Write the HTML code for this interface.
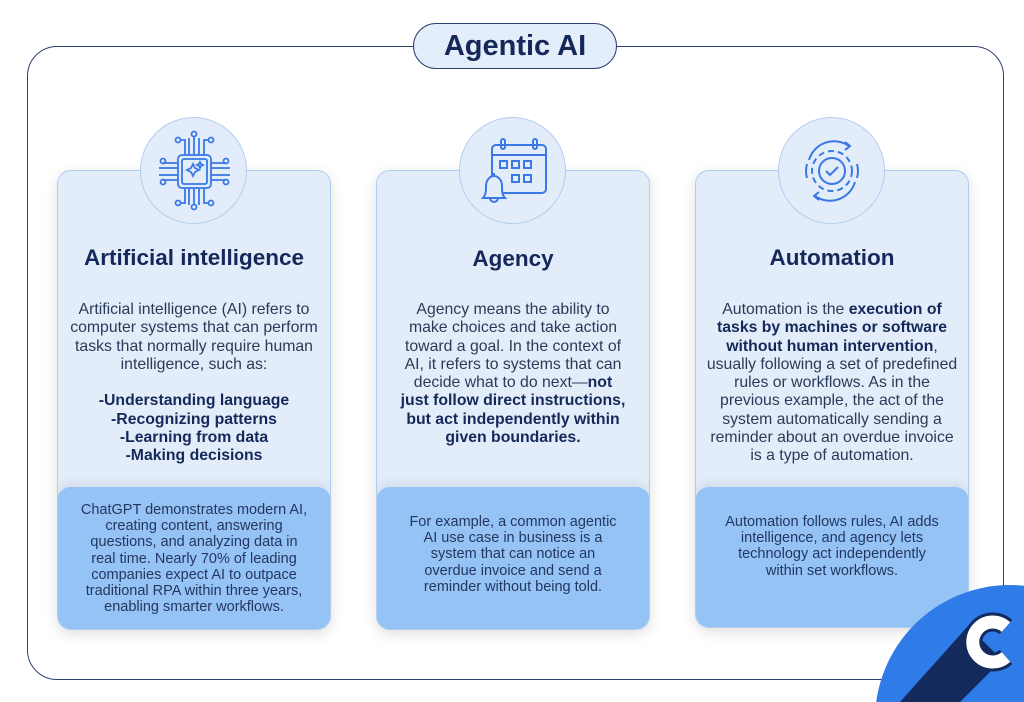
<!DOCTYPE html>
<html><head><meta charset="utf-8"><style>
*{margin:0;padding:0;box-sizing:border-box}
html,body{overflow:hidden}
body{width:1024px;height:702px;background:#fff;position:relative;overflow:hidden;font-family:"Liberation Sans",sans-serif;color:#2b3a58}
.outer{position:absolute;left:27px;top:46px;width:977px;height:634px;border:1.5px solid #2d4170;border-radius:30px}
.pill{position:absolute;left:413px;top:23px;width:204px;height:46px;border:1.5px solid #2d4170;border-radius:23px;background:#e4eefb;text-align:center;font-weight:bold;font-size:29px;line-height:44px;color:#16285a}
.card{position:absolute;top:170px;width:274px;height:460px;background:#e3edfa;border:1.5px solid #b0cdf0;border-radius:14px;box-shadow:0 4px 14px rgba(0,0,0,.13);overflow:hidden}
.bot{position:absolute;left:-1px;right:-1px;top:316px;bottom:-1px;background:#95c3f6;border-radius:14px;box-shadow:0 -4px 10px rgba(0,0,0,.08);text-align:center;font-size:14.5px;line-height:16.2px;color:#24375e;white-space:nowrap}
.circ{position:absolute;top:117px;width:107px;height:107px;border-radius:50%;background:#e3edfa;border:1.5px solid #b3cdf0}
h2{position:absolute;top:245px;width:274px;text-align:center;font-size:22.5px;color:#16285a}
.txt{position:absolute;width:274px;text-align:center;font-size:15.8px;line-height:18.3px;white-space:nowrap}
b{color:#16285a}
</style></head><body>
<div class="outer"></div>
<div class="pill">Agentic AI</div>

<div class="card" style="left:57px"><div class="bot" style="padding-top:15px">ChatGPT demonstrates modern AI,<br>creating content, answering<br>questions, and analyzing data in<br>real time. Nearly 70% of leading<br>companies expect AI to outpace<br>traditional RPA within three years,<br>enabling smarter workflows.</div></div>
<div class="card" style="left:376px"><div class="bot" style="padding-top:27px">For example, a common agentic<br>AI use case in business is a<br>system that can notice an<br>overdue invoice and send a<br>reminder without being told.</div></div>
<div class="card" style="left:695px;height:458px"><div class="bot" style="padding-top:27px">Automation follows rules, AI adds<br>intelligence, and agency lets<br>technology act independently<br>within set workflows.</div></div>

<div class="circ" style="left:140px"><svg width="107" height="107" viewBox="0 0 107 107" fill="none" stroke="#3a78e6" stroke-width="1.8"><rect x="37" y="37" width="33" height="33" rx="4"/><rect x="41" y="41" width="25" height="25" rx="2"/><path d="M50 50l2-4 2 4 4 2-4 2-2 4-2-4-4-2z"/><path d="M58 46l1-2 1 2 2 1-2 1-1 2-1-2-2-1z"/><path d="M44 37V22h-4M48 37V20M53 37V18M58 37V20M63 37V22h4M44 70v15h-4M48 70v17M53 70v17M58 70v17M63 70v15h4M37 45H22M37 50H18M37 57H18M37 62H22M70 45h15M70 50h19M70 57h19M70 62h15"/><circle cx="37" cy="22" r="2.5"/><circle cx="53" cy="16" r="2.5"/><circle cx="70" cy="22" r="2.5"/><circle cx="37" cy="85" r="2.5"/><circle cx="53" cy="89" r="2.5"/><circle cx="70" cy="85" r="2.5"/><circle cx="22" cy="43" r="2.5"/><circle cx="85" cy="43" r="2.5"/><circle cx="22" cy="64" r="2.5"/><circle cx="85" cy="64" r="2.5"/></svg></div>
<div class="circ" style="left:459px"><svg width="107" height="107" viewBox="0 0 107 107" fill="none" stroke="#3a78e6" stroke-width="2"><rect x="32" y="27" width="54" height="48" rx="4"/><path d="M32 37h54"/><rect x="41" y="21" width="4" height="10" rx="2"/><rect x="73" y="21" width="4" height="10" rx="2"/><rect x="40" y="43" width="7" height="7"/><rect x="52" y="43" width="7" height="7"/><rect x="64" y="43" width="7" height="7"/><rect x="52" y="57" width="7" height="7"/><rect x="64" y="57" width="7" height="7"/><path d="M23 80c3-3 3-8 3-12 0-6 4-10 8-10s8 4 8 10c0 4 0 9 3 12z" fill="#e3edfa"/><path d="M34 58v-3M30 80a4 4 0 008 0"/></svg></div>
<div class="circ" style="left:778px"><svg width="107" height="107" viewBox="0 0 107 107" fill="none" stroke="#3a78e6" stroke-width="2"><circle cx="53" cy="53" r="13"/><path d="M47 53l4 4 8-8"/><circle cx="53" cy="53" r="20" stroke-dasharray="6 4"/><path d="M30 42a26 26 0 0140-14M76 64a26 26 0 01-40 14M28 60a26 26 0 010-14M78 46a26 26 0 010 14"/><path d="M66 24l5 4-5 4M40 82l-5-4 5-4"/></svg></div>

<h2 style="left:57px">Artificial intelligence</h2>
<h2 style="left:376px;top:246px">Agency</h2>
<h2 style="left:695px">Automation</h2>

<div class="txt" style="left:57px;top:301px">Artificial intelligence (AI) refers to<br>computer systems that can perform<br>tasks that normally require human<br>intelligence, such as:<br><br><b>-Understanding language<br>-Recognizing patterns<br>-Learning from data<br>-Making decisions</b></div>
<div class="txt" style="left:376px;top:301px">Agency means the ability to<br>make choices and take action<br>toward a goal. In the context of<br>AI, it refers to systems that can<br>decide what to do next—<b>not<br>just follow direct instructions,<br>but act independently within<br>given boundaries.</b></div>
<div class="txt" style="left:695px;top:301px">Automation is the <b>execution of<br>tasks by machines or software<br>without human intervention</b>,<br>usually following a set of predefined<br>rules or workflows. As in the<br>previous example, the act of the<br>system automatically sending a<br>reminder about an overdue invoice<br>is a type of automation.</div>

<svg style="position:absolute;left:860px;top:580px" width="164" height="122" viewBox="860 580 164 122">
<defs><clipPath id="c"><circle cx="1010" cy="720" r="135"/></clipPath></defs>
<circle cx="1010" cy="720" r="135" fill="#2f7be8"/>
<g clip-path="url(#c)"><path d="M968 626L1002 660L960 702L900 702z" fill="#14295c"/></g>
<path d="M1006 627A20 20 0 1 0 1006 657" fill="none" stroke="#14295c" stroke-width="19"/>
<path d="M1006 627A20 20 0 1 0 1006 657" fill="none" stroke="#fff" stroke-width="13"/>
</svg>
</body></html>
